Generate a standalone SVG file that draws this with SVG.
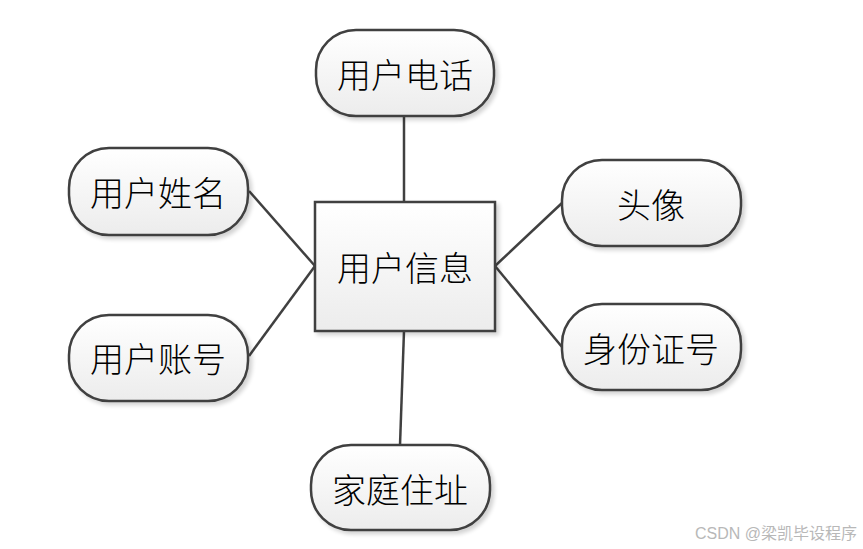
<svg xmlns="http://www.w3.org/2000/svg" width="863" height="549" viewBox="0 0 863 549">
<defs>
<linearGradient id="g" x1="0" y1="0" x2="0" y2="1">
<stop offset="0" stop-color="#ffffff"/>
<stop offset="1" stop-color="#ececec"/>
</linearGradient>
<filter id="sh" x="-10%" y="-10%" width="130%" height="130%">
<feGaussianBlur in="SourceAlpha" stdDeviation="2"/>
<feOffset dx="3" dy="3"/>
<feComponentTransfer><feFuncA type="linear" slope="0.18"/></feComponentTransfer>
<feMerge><feMergeNode/><feMergeNode in="SourceGraphic"/></feMerge>
</filter>
</defs>
<style>
.n{fill:url(#g);stroke:#404040;stroke-width:2.5;filter:url(#sh)}
.t{font-family:"Noto Sans CJK SC",sans-serif;font-size:34px;font-weight:300;fill:#000;text-anchor:middle;dominant-baseline:central}
.c{stroke:#404040;stroke-width:2.5;fill:none}
.w{font-family:"Liberation Sans","Noto Sans CJK SC",sans-serif;font-size:16px;fill:#b8b8b8}
</style>
<rect width="863" height="549" fill="#fff"/>
<g id="connectors">
<line class="c" x1="404" y1="116" x2="404" y2="202"/>
<line class="c" x1="404" y1="331" x2="400" y2="445"/>
<line class="c" x1="249" y1="191" x2="315" y2="266"/>
<line class="c" x1="249" y1="356" x2="315" y2="266"/>
<line class="c" x1="495" y1="266" x2="562" y2="203"/>
<line class="c" x1="495" y1="266" x2="562" y2="347"/>
</g>
<g id="center">
<rect class="n" x="315" y="202" width="180" height="129"/>
<text class="t" x="405" y="266">用户信息</text>
</g>
<g id="phone">
<rect class="n" x="316" y="30" width="178" height="86" rx="40"/>
<text class="t" x="405" y="73">用户电话</text>
</g>
<g id="name">
<rect class="n" x="69" y="148" width="179" height="87" rx="40"/>
<text class="t" x="158" y="191">用户姓名</text>
</g>
<g id="account">
<rect class="n" x="69" y="315" width="179" height="86" rx="40"/>
<text class="t" x="158" y="357">用户账号</text>
</g>
<g id="avatar">
<rect class="n" x="562" y="160" width="179" height="86" rx="40"/>
<text class="t" x="651" y="203">头像</text>
</g>
<g id="idcard">
<rect class="n" x="562" y="304" width="179" height="86" rx="40"/>
<text class="t" x="651" y="347">身份证号</text>
</g>
<g id="address">
<rect class="n" x="311" y="445" width="179" height="85" rx="40"/>
<text class="t" x="400" y="488">家庭住址</text>
</g>
<text class="w" x="695" y="539">CSDN @梁凯毕设程序</text>
</svg>
